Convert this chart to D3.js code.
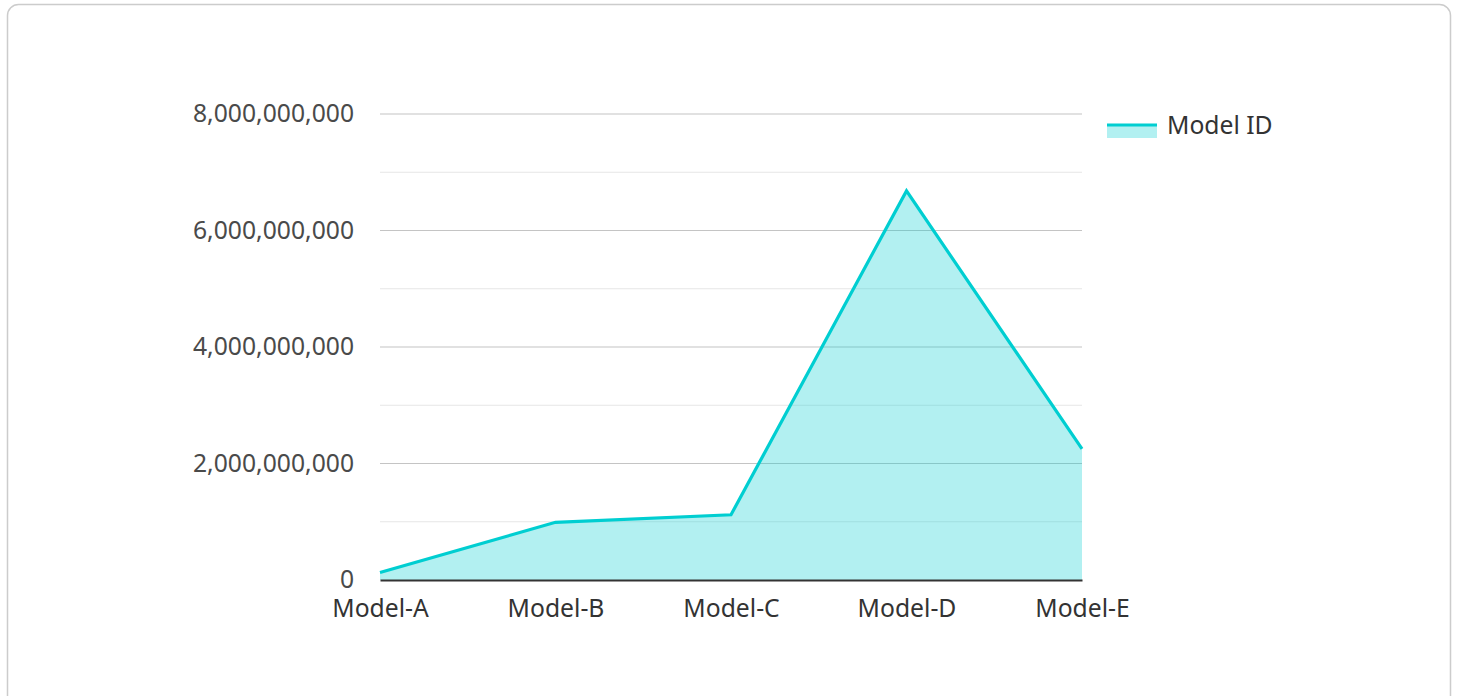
<!DOCTYPE html>
<html>
<head>
<meta charset="utf-8">
<script src="https://cdn.jsdelivr.net/npm/d3@7"></script>
<style>
  body { margin: 0; background: #fff; font-family: "Noto Sans", sans-serif; }
  svg text { font-family: "Noto Sans", sans-serif; }
</style>
</head>
<body>
<svg class="chartSVG"></svg>
<script>
const svgWidth = 1458;
const svgHeight = 696;

// data
const models = ["Model-A", "Model-B", "Model-C", "Model-D", "Model-E"];
const modelValues = [130000000, 990000000, 1120000000, 6680000000, 2250000000];
const yTicks = [0, 2000000000, 4000000000, 6000000000, 8000000000];
const yMinorTicks = [1000000000, 3000000000, 5000000000, 7000000000];
const seriesName = "Model ID";

const lineColour = "#00ced1";
const fillColour = "rgba(0, 206, 209, 0.3)";

var margin = { top: 114, left: 380, right: 376, bottom: 116 };
var innerWidth = svgWidth - margin.left - margin.right;
var innerHeight = svgHeight - margin.top - margin.bottom;

const svg = d3.select(".chartSVG")
  .attr("width", svgWidth)
  .attr("height", svgHeight);

// card border
svg.append("rect")
  .attr("x", 7.5)
  .attr("y", 4.5)
  .attr("width", 1443)
  .attr("height", 720)
  .attr("rx", 11)
  .attr("fill", "none")
  .attr("stroke", "#cccccc")
  .attr("stroke-width", 1.5);

const graph = svg.append("g")
  .attr("transform", `translate(${margin.left}, ${margin.top})`);

var x = d3.scalePoint()
  .domain(models)
  .range([0, innerWidth]);

var y = d3.scaleLinear()
  .domain([0, 8000000000])
  .range([innerHeight, 0]);

// minor gridlines
graph.selectAll(".minor")
  .data(yMinorTicks)
  .join("line")
    .attr("x1", 0)
    .attr("x2", innerWidth)
    .attr("y1", d => y(d))
    .attr("y2", d => y(d))
    .attr("stroke", "#e6e6e6")
    .attr("stroke-width", 1);

// major gridlines
graph.selectAll(".major")
  .data(yTicks.filter(d => d > 0))
  .join("line")
    .attr("x1", 0)
    .attr("x2", innerWidth)
    .attr("y1", d => y(d))
    .attr("y2", d => y(d))
    .attr("stroke", "#c4c4c4")
    .attr("stroke-width", 1.2);

// y labels
var yAxis = graph.append("g")
  .call(d3.axisLeft(y).tickValues(yTicks).tickFormat(d3.format(",")).tickSize(0).tickPadding(26));
yAxis.select(".domain").remove();
yAxis.selectAll("text")
  .attr("fill", "#4a4a4a")
  .style("font-size", "24.7px");

// area
graph.append("path")
  .datum(modelValues)
  .attr("fill", fillColour)
  .attr("d", d3.area()
    .x((d, i) => x(models[i]))
    .y0(y(0))
    .y1(d => y(d)));

graph.append("path")
  .datum(modelValues)
  .attr("fill", "none")
  .attr("stroke", lineColour)
  .attr("stroke-width", 3.2)
  .attr("d", d3.line()
    .x((d, i) => x(models[i]))
    .y(d => y(d)));

// x axis
var xAxis = graph.append("g")
  .attr("transform", `translate(0, ${innerHeight})`)
  .call(d3.axisBottom(x).tickSize(0).tickPadding(19));
xAxis.select(".domain")
  .attr("stroke", "#333333")
  .attr("stroke-width", 2);
xAxis.selectAll("text")
  .attr("fill", "#333333")
  .style("font-size", "24.7px");

// legend
const legend = svg.append("g")
  .attr("transform", "translate(1107, 125)");
legend.append("rect")
  .attr("x", 0)
  .attr("y", 0)
  .attr("width", 50)
  .attr("height", 13)
  .attr("fill", fillColour);
legend.append("line")
  .attr("x1", 0)
  .attr("x2", 50)
  .attr("y1", 0)
  .attr("y2", 0)
  .attr("stroke", lineColour)
  .attr("stroke-width", 3);
legend.append("text")
  .attr("x", 60)
  .attr("y", 9)
  .attr("fill", "#333333")
  .style("font-size", "24.7px")
  .text(seriesName);
</script>
</body>
</html>
